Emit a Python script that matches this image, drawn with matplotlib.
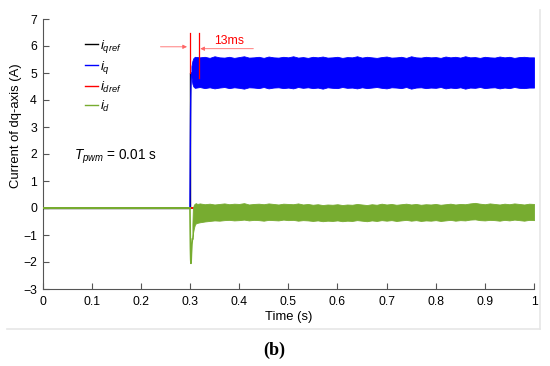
import numpy as np
import matplotlib
matplotlib.use("Agg")
import matplotlib.pyplot as plt
from matplotlib.lines import Line2D

plt.rcParams['font.family'] = ['Liberation Sans', 'DejaVu Sans']
plt.rcParams['mathtext.fontset'] = 'custom'
plt.rcParams['mathtext.rm'] = 'Liberation Sans'
plt.rcParams['mathtext.it'] = 'Liberation Sans:italic'

# ---------------- data ----------------
x_ticks = [0, 0.1, 0.2, 0.3, 0.4, 0.5, 0.6, 0.7, 0.8, 0.9, 1]
x_tick_labels = ['0', '0.1', '0.2', '0.3', '0.4', '0.5', '0.6', '0.7', '0.8', '0.9', '1']
y_ticks = [-3, -2, -1, 0, 1, 2, 3, 4, 5, 6, 7]

# reference steps
iqref_t = [0.0, 0.3, 0.3, 1.0]
iqref_v = [0.0, 0.0, 5.0, 5.0]
idref_t = [0.0, 1.0]
idref_v = [0.0, 0.0]

# iq transient (before dense ripple)
iq_t = [0.0, 0.300, 0.3004, 0.3008, 0.3012, 0.3016, 0.302, 0.3025, 0.303]
iq_v = [0.0, 0.0, 1.2, 2.4, 3.4, 4.1, 4.5, 4.8, 5.0]

# id transient dip
id_t = [0.0, 0.300, 0.3005, 0.301, 0.3015, 0.302, 0.3025, 0.303, 0.304, 0.305]
id_v = [0.0, 0.0, -0.8, -1.5, -1.9, -2.05, -1.95, -1.7, -1.35, -1.15]

# ripple envelopes (dense switching ripple)
band_t = [0.303, 0.305, 0.307, 0.31, 0.32, 0.33, 0.34, 0.35, 0.36, 0.37, 0.38, 0.39,
          0.40, 0.41, 0.42, 0.43, 0.44, 0.45, 0.46, 0.47, 0.48, 0.49,
          0.50, 0.51, 0.52, 0.53, 0.54, 0.55, 0.56, 0.57, 0.58, 0.59,
          0.60, 0.61, 0.62, 0.63, 0.64, 0.65, 0.66, 0.67, 0.68, 0.69,
          0.70, 0.71, 0.72, 0.73, 0.74, 0.75, 0.76, 0.77, 0.78, 0.79,
          0.80, 0.81, 0.82, 0.83, 0.84, 0.85, 0.86, 0.87, 0.88, 0.89,
          0.90, 0.91, 0.92, 0.93, 0.94, 0.95, 0.96, 0.97, 0.98, 0.99, 1.0]
iq_upper = [5.25, 5.45, 5.55, 5.6, 5.58, 5.6, 5.56, 5.62, 5.58, 5.57, 5.6, 5.56,
            5.59, 5.62, 5.57, 5.58, 5.6, 5.56, 5.61, 5.58, 5.57, 5.6,
            5.58, 5.62, 5.57, 5.59, 5.56, 5.6, 5.58, 5.61, 5.57, 5.58,
            5.6, 5.56, 5.59, 5.58, 5.62, 5.57, 5.6, 5.58, 5.56, 5.59,
            5.61, 5.57, 5.58, 5.6, 5.56, 5.62, 5.58, 5.57, 5.6, 5.58,
            5.59, 5.56, 5.61, 5.58, 5.6, 5.57, 5.62, 5.58, 5.59, 5.56,
            5.6, 5.58, 5.57, 5.61, 5.58, 5.6, 5.56, 5.59, 5.6, 5.58, 5.58]
iq_lower = [4.85, 4.6, 4.5, 4.45, 4.48, 4.44, 4.47, 4.43, 4.46, 4.48, 4.44, 4.47,
            4.45, 4.42, 4.47, 4.46, 4.44, 4.48, 4.43, 4.46, 4.47, 4.44,
            4.46, 4.43, 4.48, 4.45, 4.47, 4.44, 4.46, 4.42, 4.47, 4.45,
            4.44, 4.48, 4.45, 4.46, 4.43, 4.47, 4.44, 4.46, 4.48, 4.45,
            4.43, 4.47, 4.46, 4.44, 4.48, 4.42, 4.46, 4.47, 4.44, 4.46,
            4.45, 4.48, 4.43, 4.46, 4.44, 4.47, 4.42, 4.46, 4.45, 4.48,
            4.44, 4.46, 4.47, 4.43, 4.46, 4.44, 4.48, 4.45, 4.44, 4.46, 4.46]

id_band_t = [0.305, 0.306, 0.308, 0.31, 0.312, 0.315, 0.32, 0.33, 0.34, 0.35, 0.36, 0.37, 0.38, 0.39,
             0.40, 0.41, 0.42, 0.43, 0.44, 0.45, 0.46, 0.47, 0.48, 0.49,
             0.50, 0.51, 0.52, 0.53, 0.54, 0.55, 0.56, 0.57, 0.58, 0.59,
             0.60, 0.61, 0.62, 0.63, 0.64, 0.65, 0.66, 0.67, 0.68, 0.69,
             0.70, 0.71, 0.72, 0.73, 0.74, 0.75, 0.76, 0.77, 0.78, 0.79,
             0.80, 0.81, 0.82, 0.83, 0.84, 0.85, 0.86, 0.87, 0.88, 0.89,
             0.90, 0.91, 0.92, 0.93, 0.94, 0.95, 0.96, 0.97, 0.98, 0.99, 1.0]
id_upper = [-0.6, 0.0, 0.12, 0.16, 0.18, 0.15, 0.17, 0.14, 0.16, 0.13, 0.15, 0.17, 0.14, 0.16,
            0.15, 0.18, 0.13, 0.15, 0.16, 0.14, 0.17, 0.15, 0.13, 0.16,
            0.15, 0.14, 0.17, 0.13, 0.15, 0.12, 0.14, 0.11, 0.13, 0.12,
            0.14, 0.11, 0.13, 0.12, 0.15, 0.13, 0.11, 0.14, 0.12, 0.16,
            0.13, 0.15, 0.12, 0.14, 0.16, 0.13, 0.15, 0.12, 0.14, 0.13,
            0.15, 0.12, 0.14, 0.16, 0.13, 0.15, 0.14, 0.17, 0.19, 0.16,
            0.14, 0.17, 0.15, 0.13, 0.16, 0.14, 0.17, 0.15, 0.13, 0.16, 0.15]
id_lower = [-1.15, -0.95, -0.75, -0.62, -0.57, -0.55, -0.53, -0.5, -0.48, -0.46, -0.47, -0.45, -0.44, -0.46,
            -0.45, -0.43, -0.46, -0.44, -0.45, -0.47, -0.44, -0.45, -0.46, -0.43,
            -0.45, -0.44, -0.47, -0.45, -0.46, -0.48, -0.46, -0.49, -0.47, -0.48,
            -0.46, -0.49, -0.47, -0.48, -0.45, -0.47, -0.49, -0.46, -0.48, -0.45,
            -0.47, -0.45, -0.48, -0.46, -0.44, -0.47, -0.45, -0.48, -0.46, -0.47,
            -0.45, -0.48, -0.46, -0.44, -0.47, -0.45, -0.46, -0.43, -0.42, -0.45,
            -0.46, -0.44, -0.45, -0.47, -0.44, -0.46, -0.43, -0.45, -0.47, -0.44, -0.45]

# annotation values
settle_start = 0.300
settle_end = 0.319
settle_label = '13ms'
pwm_label = r'$T_{pwm}$ = 0.01 s'

C_BLACK = '#000000'
C_BLUE = '#0000ff'
C_RED = '#ff0000'
C_GREEN = '#77ac30'

# ---------------- figure ----------------
fig = plt.figure(figsize=(5.5, 3.66), dpi=100)
ax = fig.add_axes([42.5 / 550, 1 - 289 / 366, 491.5 / 550, 270 / 366])

lw = 1.0
ax.plot(iqref_t, iqref_v, color=C_BLACK, lw=lw, zorder=3)
ax.plot(iq_t, iq_v, color=C_BLUE, lw=lw, zorder=4)
ax.fill_between(band_t, iq_lower, iq_upper, color=C_BLUE, lw=0.6, edgecolor=C_BLUE, zorder=4)
ax.plot(idref_t, idref_v, color=C_RED, lw=1.4, zorder=5)
ax.plot(id_t, id_v, color=C_GREEN, lw=1.2, zorder=6)
ax.fill_between(id_band_t, id_lower, id_upper, color=C_GREEN, lw=0.6, edgecolor=C_GREEN, zorder=6)
ax.plot([id_t[0], id_t[1]], [id_v[0], id_v[1]], color=C_GREEN, lw=1.4, zorder=7)

ax.set_xlim(0, 1)
ax.set_ylim(-3, 7)
ax.set_xticks(x_ticks)
ax.set_xticklabels(x_tick_labels)
ax.set_yticks(y_ticks)
for s in ['top', 'right']:
    ax.spines[s].set_visible(False)
for s in ['left', 'bottom']:
    ax.spines[s].set_color('#555555')
    ax.spines[s].set_linewidth(0.8)
ax.tick_params(direction='in', length=4, width=0.8, color='#555555',
               labelsize=8.8, labelcolor='#000000')
ax.tick_params(axis='x', pad=5)
ax.tick_params(axis='y', pad=4)

ax.set_xlabel('Time (s)', fontsize=9.4)
ax.set_ylabel('Current of dq-axis (A)', fontsize=9.4)
ax.xaxis.set_label_coords(0.5, -0.08)
ax.yaxis.set_label_coords(-0.041, 0.605)

# settle-time annotation
ax.plot([settle_start, settle_start], [5.0, 6.48], color=C_RED, lw=0.9, zorder=8)
ax.plot([settle_end, settle_end], [4.8, 6.48], color=C_RED, lw=0.9, zorder=8)
ax.annotate('', xy=(settle_start - 0.006, 5.97), xytext=(settle_start - 0.06, 5.97),
            arrowprops=dict(arrowstyle='-|>', color='#ff6666', lw=0.6,
                            mutation_scale=6, shrinkA=0, shrinkB=0), zorder=8)
ax.annotate('', xy=(settle_end + 0.002, 5.9), xytext=(settle_end + 0.11, 5.9),
            arrowprops=dict(arrowstyle='-|>', color='#ff6666', lw=0.6,
                            mutation_scale=6, shrinkA=0, shrinkB=0), zorder=8)
ax.text(0.35, 6.18, settle_label, color=C_RED, fontsize=8.8, ha='left', va='center')

ax.text(0.065, 1.9, pwm_label, fontsize=9.8, ha='left', va='center')

handles = [Line2D([], [], color=C_BLACK, lw=1.0),
           Line2D([], [], color=C_BLUE, lw=1.0),
           Line2D([], [], color=C_RED, lw=1.0),
           Line2D([], [], color=C_GREEN, lw=1.0)]
labels = [r'$i_{qref}$', r'$i_{q}$', r'$i_{dref}$', r'$i_{d}$']
ax.legend(handles, labels, loc='upper left', bbox_to_anchor=(0.076, 0.95),
          frameon=False, fontsize=9.5, handlelength=0.95, handletextpad=0.2,
          labelspacing=0.3, borderaxespad=0)

# light frame lines (right and bottom) and caption
fig.add_artist(Line2D([540 / 550, 540 / 550], [1 - 10 / 366, 1 - 329 / 366],
                      color='#e6e6e6', lw=1.2, transform=fig.transFigure))
fig.add_artist(Line2D([7 / 550, 540 / 550], [1 - 329 / 366, 1 - 329 / 366],
                      color='#e6e6e6', lw=1.2, transform=fig.transFigure))
fig.text(274 / 550, 1 - 350 / 366, '(b)', fontsize=13, fontweight='bold',
         family=['Liberation Serif', 'DejaVu Serif'], ha='center', va='center')

fig.savefig('out.png', dpi=100)
